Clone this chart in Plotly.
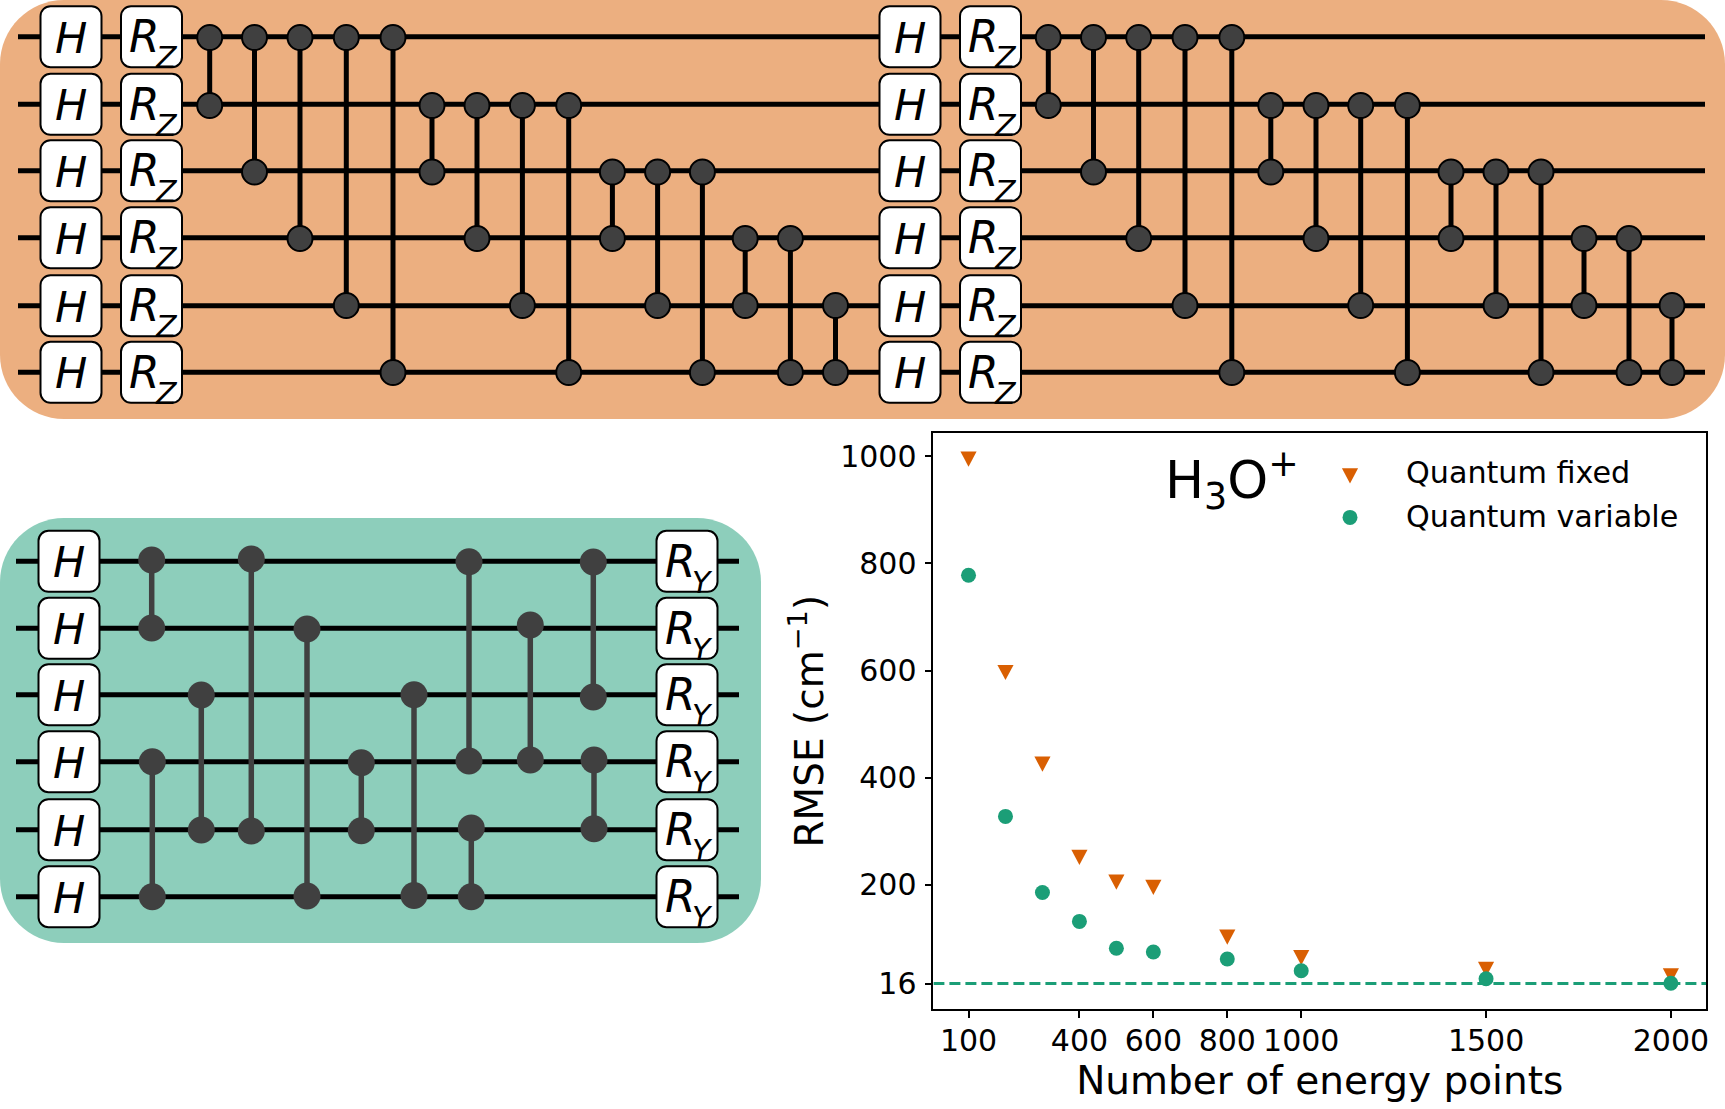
import plotly.graph_objects as go

# ---------- RMSE panel data ----------
energy_points = [100, 200, 300, 400, 500, 600, 800, 1000, 1500, 2000]
rmse_fixed = [994, 596, 425, 251, 205, 195, 102, 64, 42, 30]
rmse_variable = [778, 328, 186, 132, 82, 75, 62, 40, 25, 16.5]
target_rmse = 16
x_ticks = [100, 400, 600, 800, 1000, 1500, 2000]
y_ticks = [16, 200, 400, 600, 800, 1000]
x_range = [5, 2095]
y_range = [-32, 1043.4]

# ---------- circuit data (page pixel scale) ----------
top_wire_y = [36.7, 104.3, 170.7, 237.7, 305.7, 372.3]
top_dot_y = [37.5, 105.5, 172, 238.5, 305.5, 372.5]
top_wire_x = [18, 1705]
top_h_x = [71, 910]
top_rz_x = [151.5, 990.5]
top_gate_x = [209.7, 254.5, 300, 346.3, 393, 432, 477, 522.4, 568.7, 612.4, 657.6, 702.4, 745.2, 790.4, 835.5,
              1048.3, 1093.5, 1138.7, 1185, 1231.8, 1270.8, 1316, 1360.7, 1407.4, 1451, 1496, 1541, 1584, 1629, 1672]
top_gate_a = [0, 0, 0, 0, 0, 1, 1, 1, 1, 2, 2, 2, 3, 3, 4] * 2
top_gate_b = [1, 2, 3, 4, 5, 2, 3, 4, 5, 3, 4, 5, 4, 5, 5] * 2

bot_wire_y = [561.3, 628.3, 694.7, 761.7, 829.7, 896.7]
bot_wire_x = [16, 739]
bot_h_x = [69]
bot_ry_x = [687]
bot_gate_x = [151.7, 152.3, 201.3, 251.3, 307, 361.3, 414, 469, 471.3, 530.3, 593.3, 594]
bot_gate_ya = [560, 761.7, 695, 559, 629, 762.7, 694.7, 561.7, 828, 625, 562, 760]
bot_gate_yb = [628, 896.7, 830, 831, 896, 830.7, 895.5, 761, 896.7, 760, 697, 828.7]

top_band = [0, 1725, 0, 419]
bot_band = [0, 761, 518, 943]
PAGE_W, PAGE_H = 1725, 1109
BOX = 61
FONT = "DejaVu Sans"
ORANGE, GREEN = "#d95f02", "#1b9e77"


def rounded(x0, x1, y0, y1, r):
    k = r * 0.45
    return (f"M{x0+r},{y0} L{x1-r},{y0} C{x1-k},{y0} {x1},{y0+k} {x1},{y0+r} "
            f"L{x1},{y1-r} C{x1},{y1-k} {x1-k},{y1} {x1-r},{y1} "
            f"L{x0+r},{y1} C{x0+k},{y1} {x0},{y1-k} {x0},{y1-r} "
            f"L{x0},{y0+r} C{x0},{y0+k} {x0+k},{y0} {x0+r},{y0} Z")


def wire_trace(ys, xs):
    X, Y = [], []
    for y in ys:
        X += [xs[0], xs[1], None]
        Y += [y, y, None]
    return go.Scatter(x=X, y=Y, mode="lines", line=dict(color="black", width=5),
                      showlegend=False, hoverinfo="skip", xaxis="x", yaxis="y")


def gate_traces(gx, ya, yb, color, lw, size, edge):
    X, Y, DX, DY = [], [], [], []
    for x, a, b in zip(gx, ya, yb):
        X += [x, x, None]
        Y += [a, b, None]
        DX += [x, x]
        DY += [a, b]
    return [
        go.Scatter(x=X, y=Y, mode="lines", line=dict(color=color, width=lw),
                   showlegend=False, hoverinfo="skip", xaxis="x", yaxis="y"),
        go.Scatter(x=DX, y=DY, mode="markers",
                   marker=dict(color="#404040", size=size, line=dict(color="black", width=edge)),
                   showlegend=False, hoverinfo="skip", xaxis="x", yaxis="y"),
    ]


fig = go.Figure()
fig.add_trace(wire_trace(top_wire_y, top_wire_x))
fig.add_traces(gate_traces(top_gate_x, [top_dot_y[a] for a in top_gate_a],
                           [top_dot_y[b] for b in top_gate_b], "black", 5, 25, 2))
fig.add_trace(wire_trace(bot_wire_y, bot_wire_x))
fig.add_traces(gate_traces(bot_gate_x, bot_gate_ya, bot_gate_yb, "#404040", 5.5, 27, 0))

fig.add_trace(go.Scatter(x=x_range, y=[target_rmse, target_rmse], mode="lines",
                         line=dict(color=GREEN, width=3, dash="11px,5px"),
                         showlegend=False, xaxis="x2", yaxis="y2"))
fig.add_trace(go.Scatter(x=energy_points, y=rmse_fixed, mode="markers", name="Quantum fixed",
                         legendgroup="fixed",
                         marker=dict(symbol="triangle-down", color=ORANGE, size=14),
                         xaxis="x2", yaxis="y2"))
fig.add_trace(go.Scatter(x=energy_points, y=rmse_variable, mode="markers", name="Quantum variable",
                         legendgroup="variable",
                         marker=dict(symbol="circle", color=GREEN, size=15),
                         xaxis="x2", yaxis="y2"))

shapes, annotations = [], []
for band, col in ((top_band, "#ecaf80"), (bot_band, "#8dcebb")):
    shapes.append(dict(type="path", path=rounded(band[0], band[1], band[2], band[3], 64),
                       xref="x", yref="y", fillcolor=col, line=dict(width=0), layer="below"))


def note(text, x, y, size):
    annotations.append(dict(text=text, x=x, y=y, xref="x", yref="y",
                            xanchor="center", yanchor="middle", showarrow=False,
                            font=dict(family=FONT, size=size, color="black")))


def add_boxes(xs, ys, label, sub=None):
    for x in xs:
        for y in ys:
            shapes.append(dict(type="path",
                               path=rounded(x - BOX / 2, x + BOX / 2, y - BOX / 2, y + BOX / 2, 10),
                               xref="x", yref="y", fillcolor="white",
                               line=dict(color="black", width=2), layer="above"))
            if sub is None:
                note(f"<i>{label}</i>", x, y + 1, 43)
            else:
                note(f"<i>{label}</i>", x - 7, y, 44)
                note(f"<i>{sub}</i>", x + 15, y + 21, 30)


add_boxes(top_h_x, top_wire_y, "H")
add_boxes(top_rz_x, top_wire_y, "R", "Z")
add_boxes(bot_h_x, bot_wire_y, "H")
add_boxes(bot_ry_x, bot_wire_y, "R", "Y")

note("H<sub>3</sub>O<sup>+</sup>", 1232, 480, 52)

ax_font = dict(family=FONT, size=30, color="black")
legend_font = dict(family=FONT, size=30.2, color="black")
title_font = dict(family=FONT, size=39, color="black")
hidden = dict(visible=False, showgrid=False, zeroline=False)
x0, x1, y0, y1 = 933.4, 1706, 433, 1009.3

fig.update_layout(
    width=PAGE_W, height=PAGE_H, margin=dict(l=0, r=0, t=0, b=0, pad=0, autoexpand=False),
    paper_bgcolor="white", plot_bgcolor="rgba(0,0,0,0)",
    font=dict(family=FONT, color="black"),
    hovermode=False,
    xaxis=dict(range=[0, PAGE_W], domain=[0, 1], anchor="y", **hidden),
    yaxis=dict(range=[PAGE_H, 0], domain=[0, 1], anchor="x", **hidden),
    xaxis2=dict(range=x_range, domain=[x0 / PAGE_W, x1 / PAGE_W], anchor="y2",
                tickmode="array", tickvals=x_ticks, ticktext=[str(v) for v in x_ticks],
                ticks="outside", ticklen=7, tickwidth=1.5, tickcolor="black", tickfont=ax_font,
                ticklabelstandoff=-3,
                showline=True, mirror=True, linecolor="black", linewidth=1.8,
                showgrid=False, zeroline=False,
                title=dict(text="Number of energy points", font=title_font, standoff=6)),
    yaxis2=dict(range=y_range, domain=[1 - y1 / PAGE_H, 1 - y0 / PAGE_H], anchor="x2",
                tickmode="array", tickvals=y_ticks, ticktext=[str(v) for v in y_ticks],
                ticks="outside", ticklen=7, tickwidth=1.5, tickcolor="black", tickfont=ax_font,
                ticklabelstandoff=2,
                showline=True, mirror=True, linecolor="black", linewidth=1.8,
                showgrid=False, zeroline=False,
                title=dict(text="RMSE (cm<sup>−1</sup>)", font=title_font, standoff=4)),
    legend=dict(x=1294 / PAGE_W, y=1 - 445 / PAGE_H, xanchor="left", yanchor="top",
                itemwidth=102, tracegroupgap=2, traceorder="grouped",
                bgcolor="rgba(0,0,0,0)", borderwidth=0, font=legend_font),
    shapes=shapes, annotations=annotations,
)

post = """
document.body.style.margin='0';document.body.style.overflow='hidden';
document.querySelectorAll('.legendpoints path').forEach(function(el){
  el.setAttribute('transform',(el.getAttribute('transform')||'')+' translate(0,2)');
});
document.querySelectorAll('.legendpoints path').forEach(function(el){
  if(el.style.fill==='rgb(217, 95, 2)'){
    el.setAttribute('transform',(el.getAttribute('transform')||'')+' translate(0,3)');
  }
});
document.querySelectorAll('.points path, .legendpoints path').forEach(function(el){
  if(el.style.fill==='rgb(217, 95, 2)'){
    el.setAttribute('transform',(el.getAttribute('transform')||'')+' translate(0,-2.8) scale(1.0,1.45)');
  }
});
"""
fig.write_html("out.html", post_script=post, config={"displayModeBar": False})
